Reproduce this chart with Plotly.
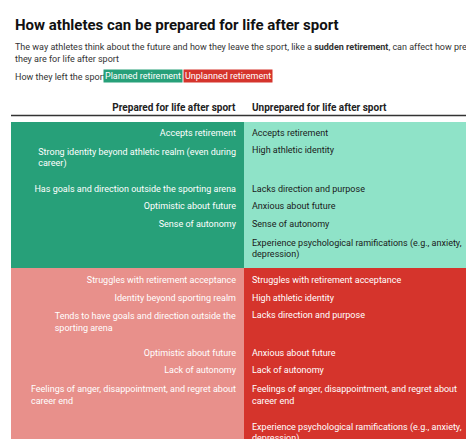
import plotly.graph_objects as go

prepared = ["Accepts retirement",
            "Strong identity beyond athletic realm (even during career)",
            "Has goals and direction outside the sporting arena",
            "Optimistic about future",
            "Sense of autonomy",
            "",
            "Struggles with retirement acceptance",
            "Identity beyond sporting realm",
            "Tends to have goals and direction outside the sporting arena",
            "Optimistic about future",
            "Lack of autonomy",
            "Feelings of anger, disappointment, and regret about career end",
            "",
            ""]
unprepared = ["Accepts retirement",
              "High athletic identity",
              "Lacks direction and purpose",
              "Anxious about future",
              "Sense of autonomy",
              "Experience psychological ramifications (e.g., anxiety, depression)",
              "Struggles with retirement acceptance",
              "High athletic identity",
              "Lacks direction and purpose",
              "Anxious about future",
              "Lack of autonomy",
              "Feelings of anger, disappointment, and regret about career end",
              "Experience psychological ramifications (e.g., anxiety, depression)",
              "Holds onto past"]
left_type = ["planned"] * 6 + ["unplanned"] * 8

colors = {"planned": ("#27a079", "#8fe3c8"), "unplanned": ("#e8908b", "#d5342c")}
fill1 = [colors[t][0] for t in left_type]
fill2 = [colors[t][1] for t in left_type]
font2 = ["#1a1a1a" if t == "planned" else "white" for t in left_type]

W, H = 474, 439
fig = go.Figure(go.Table(
    domain=dict(x=[3 / W, 470 / W], y=[0, 1 - 86 / H]),
    columnwidth=[233, 234],
    header=dict(values=["<b>Prepared for life after sport</b>", "<b>Unprepared for life after sport</b>"],
                align=["right", "left"], fill_color="white", line_color="white",
                font=dict(family="Roboto", size=10, color="#222"), height=22),
    cells=dict(values=[prepared, unprepared], align=["right", "left"],
               fill_color=[fill1, fill2], line=dict(color=[fill1, fill2], width=1),
               font=dict(family="Roboto", size=9, color=["white", font2]), height=17.5),
))

fig.add_shape(type="line", xref="paper", yref="paper", x0=3 / W, x1=470 / W,
              y0=1 - 107.5 / H, y1=1 - 107.5 / H, line=dict(color="#333", width=1.5))

fig.add_annotation(x=5 / W, y=1 - 6 / H, xanchor="left", yanchor="top", showarrow=False,
                   text="<b>How athletes can be prepared for life after sport</b>",
                   font=dict(family="Roboto", size=15, color="#111"))
fig.add_annotation(x=5 / W, y=1 - 32 / H, xanchor="left", yanchor="top", showarrow=False, align="left",
                   text="The way athletes think about the future and how they leave the sport, like a <b>sudden retirement</b>, can affect how prepared<br>they are for life after sport",
                   font=dict(family="Roboto", size=9, color="#333"))
fig.add_annotation(x=5 / W, y=1 - 62 / H, xanchor="left", yanchor="top", showarrow=False,
                   text="How they left the sport:", font=dict(family="Roboto", size=9, color="#333"))
fig.add_annotation(x=95 / W, y=1 - 61 / H, xanchor="left", yanchor="top", showarrow=False,
                   text="Planned retirement", bgcolor="#27a079", borderpad=1,
                   font=dict(family="Roboto", size=9, color="white"))
fig.add_annotation(x=175 / W, y=1 - 61 / H, xanchor="left", yanchor="top", showarrow=False,
                   text="Unplanned retirement", bgcolor="#d5342c", borderpad=1,
                   font=dict(family="Roboto", size=9, color="white"))
link = "#1d81a2"
fig.add_annotation(x=3 / W, y=1 - 430 / H, xanchor="left", yanchor="top", showarrow=False, align="left",
                   text=("Table: The Conversation • Source: "
                         f"<span style='color:{link}'>S. Knights, E. Sherry, M. Ruddock-Hudson, P O'Halloran</span> • "
                         f"<span style='color:{link}'>Get the data</span> • <span style='color:{link}'>Embed</span> • "
                         f"<span style='color:{link}'>Download image</span> • Created with<br>"
                         f"<span style='color:{link}'>Datawrapper</span>"),
                   font=dict(family="Roboto", size=7.5, color="#888"))

fig.update_layout(width=W, height=H, margin=dict(l=0, r=0, t=0, b=0),
                  paper_bgcolor="white", plot_bgcolor="white")
fig.write_html("out.html")
